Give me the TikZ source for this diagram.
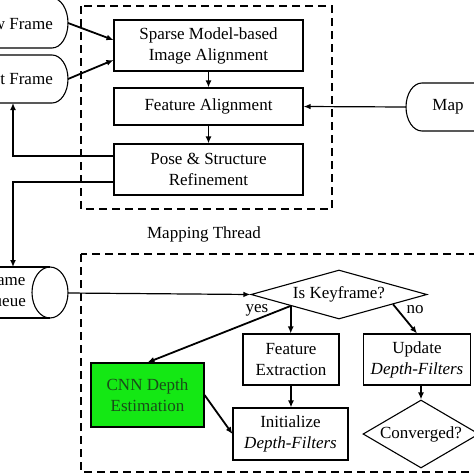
\documentclass[tikz,border=0pt]{standalone}
\usepackage{fontspec}
\setmainfont{Liberation Serif}
\usetikzlibrary{shapes.geometric,arrows.meta,calc}
\definecolor{cnngreen}{RGB}{20,232,20}
\definecolor{cnntext}{RGB}{25,75,25}
\begin{document}
\begin{tikzpicture}[x=1pt,y=-1pt,
  every node/.style={font=\fontsize{17}{21}\selectfont},
  box/.style={draw,line width=1.1pt,inner sep=0pt,align=center},
  dia/.style={draw,line width=1.1pt,diamond,inner sep=0pt},
  lbl/.style={inner sep=0pt,align=center},
  arr/.style={line width=1.8pt,-{Latex[length=7pt,width=6pt]}},
  thinarr/.style={line width=1.2pt,-{Latex[length=7pt,width=5.5pt]}},
  outl/.style={line width=1.1pt},
  thread/.style={line width=2.2pt,dash pattern=on 8pt off 5pt}]
\useasboundingbox (0,0) rectangle (474,474);
\clip (0,0) rectangle (474,474);
% thread boxes
\draw[thread] (81,6) rectangle (332,209);
\draw[thread] (81,254) rectangle (490,472);
% input shapes
\draw[outl] (-5,-2) -- (52,-2) arc[start angle=90,end angle=-90,x radius=16pt,y radius=25pt] -- (-5,48);
\node[lbl,anchor=east] (newf) at (53,24) {New Frame};
\coordinate (newR) at (68,23);
\draw[outl] (-5,55) -- (52,55) arc[start angle=90,end angle=-90,x radius=16pt,y radius=24pt] -- (-5,103);
\node[lbl,anchor=east] (lastf) at (53,79) {Last Frame};
\coordinate (lastR) at (68,79);
\coordinate (lastB) at (13,103);
\draw[outl] (480,83) -- (422,83) arc[start angle=90,end angle=270,x radius=16pt,y radius=24pt] -- (480,131);
\node[lbl] (map) at (448,107) {Map};
\coordinate (mapL) at (406,107);
% frame queue
\draw[outl] (-5,267) -- (50,267);
\draw[outl] (-5,318) -- (50,318);
\draw[outl] (50,292.5) ellipse [x radius=18pt,y radius=25.5pt];
\node[lbl,anchor=east] (fq) at (26,292) {Frame\\Queue};
\coordinate (fqT) at (13,267);
\coordinate (fqR) at (68,293);
% tracking boxes
\node[box,minimum width=189,minimum height=51] (sparse) at (208.5,45.5) {Sparse Model-based\\Image Alignment};
\node[box,minimum width=189,minimum height=37] (feat) at (208.5,106.5) {Feature Alignment};
\node[box,minimum width=189,minimum height=51] (pose) at (208.5,169.5) {Pose \& Structure\\Refinement};
\node[lbl] (mt) at (204,234) {Mapping Thread};
% mapping
\node[dia,minimum width=176,minimum height=49,aspect=3.6] (kf) at (339,294.5) {Is Keyframe?};
\node[box,fill=cnngreen,text=cnntext,minimum width=113,minimum height=64] (cnn) at (147.5,395) {CNN Depth\\Estimation};
\node[box,minimum width=96,minimum height=51] (fext) at (291,359.5) {Feature\\Extraction};
\node[box,minimum width=115,minimum height=52] (init) at (290.5,434) {Initialize\\\textit{Depth-Filters}};
\node[box,minimum width=107,minimum height=51] (upd) at (417,359.5) {Update\\\textit{Depth-Filters}};
\node[dia,minimum width=116,minimum height=68,aspect=1.7] (conv) at (421,434) {Converged?};
\node[lbl] (yes) at (257,310) {yes};
\node[lbl] (no) at (415,310) {no};
\coordinate (kfY) at ($(kf.west)!0.455!(kf.south)$);
\coordinate (kfN) at ($(kf.south)!0.61!(kf.east)$);
% connectors
\draw[arr] (newR) -- ([yshift=5.5pt]sparse.west);
\draw[arr] (lastR) -- ([yshift=-14.5pt]sparse.west);
\draw[arr] (sparse) -- (feat);
\draw[arr] (feat) -- (pose);
\draw[thinarr] (mapL) -- (feat.east);
\draw[arr] ([yshift=13.5pt]pose.west) -| (lastB);
\draw[arr] ([yshift=-12.5pt]pose.west) -| (fqT);
\draw[thinarr] (fqR) -- (kf.west);
\draw[arr] (kfY) -- (cnn.north);
\draw[arr] (kfY) -- (kfY |- fext.north);
\draw[arr] (kfN) -- (upd.north);
\draw[arr] (cnn.east) -- (init.west);
\draw[arr] (fext.south) -- (fext.south |- init.north);
\draw[arr] (conv.north |- upd.south) -- (conv.north);
\end{tikzpicture}
\end{document}
